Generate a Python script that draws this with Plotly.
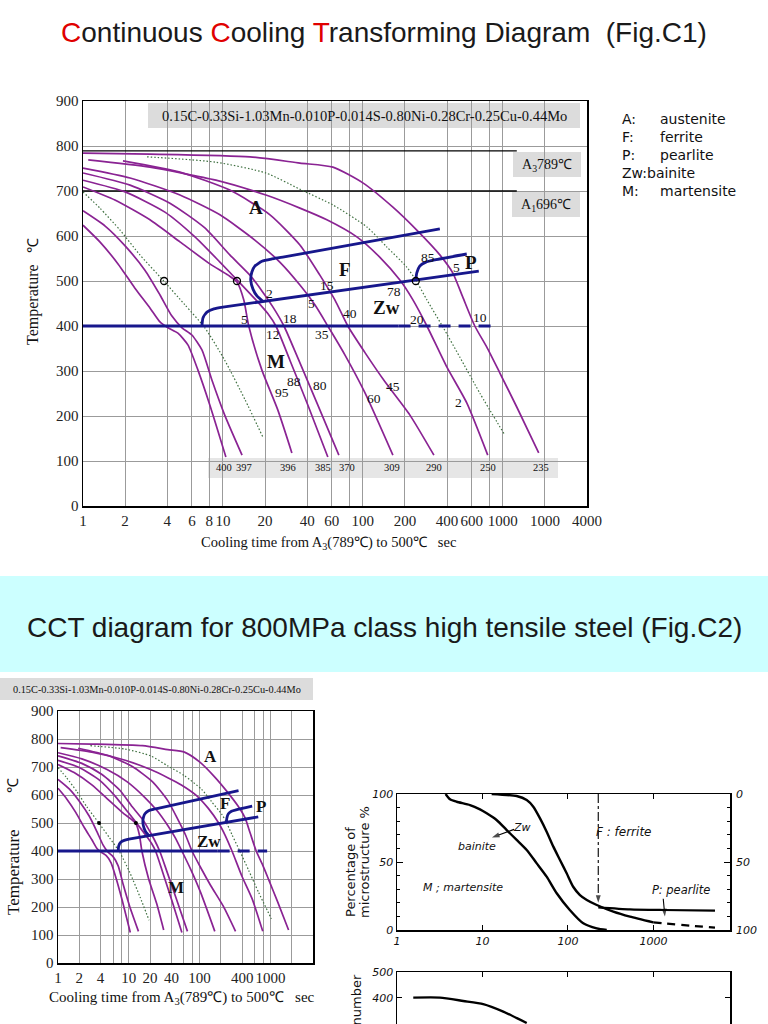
import math
import plotly.graph_objects as go

W, H = 768, 1024

# ======================= DATA =======================
# Fig.C1 / Fig.C2 cooling curves: cooling time (s) and temperature (deg C),
# each named by the Vickers hardness written at its lower end
hv400_time = [1, 1.32, 1.78, 2.35, 3.01, 3.55, 4.05, 4.77, 5.62, 6.63, 8.07, 10.5]
hv400_temp = [624, 587, 538, 484, 440, 409, 396, 384, 358, 302, 224, 109]
hv397_time = [1, 1.44, 2.0, 2.77, 3.55, 4.32, 5.1, 6.0, 7.08, 8.34, 10.3, 13.7]
hv397_temp = [656, 622, 578, 524, 469, 422, 396, 380, 347, 280, 202, 113]
hv396_time = [1, 1.69, 3.01, 4.93, 8.07, 10.9, 12.6, 14.1, 15.3, 19.0, 24.7, 31.1]
hv396_temp = [709, 680, 636, 587, 538, 513, 498, 458, 400, 302, 213, 118]
hv385_time = [1, 2.0, 3.85, 6.31, 9.52, 13.2, 17.2, 21.0, 23.9, 30.1, 40.5, 56.2]
hv385_temp = [724, 698, 653, 598, 542, 496, 458, 427, 400, 324, 224, 109]
hv370_time = [1, 2.17, 4.18, 7.43, 11.2, 15.6, 19.0, 22.8, 27.3, 34.3, 47.7, 67.4]
hv370_temp = [740, 713, 673, 618, 558, 513, 478, 442, 400, 329, 224, 113]
hv309_time = [1, 2.17, 4.93, 9.52, 16.9, 25.5, 35.5, 45.4, 56.2, 74.4, 103, 164]
hv309_temp = [751, 729, 691, 647, 591, 542, 491, 447, 400, 336, 253, 113]
hv290_time = [1.93, 4.93, 11.2, 21.7, 35.5, 49.3, 63.1, 78.1, 103, 144, 217, 322]
hv290_temp = [767, 742, 702, 647, 580, 513, 458, 400, 342, 276, 202, 113]
hv250_time = [1.09, 3.01, 8.91, 20.3, 35.5, 55.3, 90.6, 132, 184, 228, 287, 398, 553, 781]
hv250_temp = [769, 753, 724, 691, 662, 636, 598, 553, 502, 458, 400, 309, 229, 113]
hv235_time = [1, 3.01, 15.6, 35.5, 61.1, 100, 164, 243, 355, 439, 518, 631, 769, 952, 1259, 1807]
hv235_temp = [784, 782, 776, 762, 753, 718, 664, 613, 558, 518, 464, 400, 353, 296, 220, 118]

# critical cooling curves (green dotted)
crit1_time = [1, 1.32, 1.84, 2.55, 3.73, 5.35, 7.43, 10.3, 14.4, 19.3]
crit1_temp = [698, 662, 613, 558, 502, 447, 396, 324, 236, 153]
crit2_time = [2.87, 8.91, 20.3, 35.5, 61.1, 107, 148, 206, 239, 287, 373, 493, 685, 1033]
crit2_temp = [776, 764, 740, 704, 669, 620, 576, 531, 502, 458, 398, 331, 251, 158]

# transformation start lines (blue)
bainite_time = [7.08, 7.2, 7.69, 8.62, 10.0, 674]
bainite_temp = [400, 418, 431, 438, 442, 522]
ferrite_time = [19.3, 17.5, 16.4, 15.8, 16.1, 16.9, 19.0, 22.4, 26.8, 355]
ferrite_temp = [455, 467, 482, 502, 520, 533, 544, 549, 553, 616]
pearlite_time = [239, 243, 255, 282, 327, 553]
pearlite_temp = [502, 518, 533, 542, 547, 560]
ms_temp = 400
ms_solid_time = [1, 180]
ms_dashed_time = [180, 900]

# critical points (open circles)
crit_point_time = [3.8, 12.6, 239]
crit_point_temp = [500, 500, 500]

# A3 / A1 lines
A3_TEMP = 789
A1_TEMP = 700
A_LINE_TIME = [1, 1260]

HARDNESS_LABELS = ["400", "397", "396", "385", "370", "309", "290", "250", "235"]

COMPOSITION = "0.15C-0.33Si-1.03Mn-0.010P-0.014S-0.80Ni-0.28Cr-0.25Cu-0.44Mo"

# percentages written on Fig.C1 (text)
MAIN_NUMBERS = ["2", "15", "5", "78", "85", "5", "5", "18", "40", "20", "10",
                "12", "35", "95", "88", "80", "60", "45", "2"]

# x-axis ticks
X_MAIN_TICKS = [1, 2, 4, 6, 8, 10, 20, 40, 60, 100, 200, 400, 600, 1000, 2000, 4000]
X_MAIN_TEXT = ["1", "2", "4", "6", "8", "10", "20", "40", "60", "100", "200", "400",
               "600", "1000", "1000", "4000"]
X_MAIN_EXTRA_GRID = [80, 800]
X_SMALL_TICKS = [1, 2, 4, 10, 20, 40, 100, 400, 1000]
X_SMALL_EXTRA_GRID = [6, 8, 60, 80, 200, 600, 800, 2000]

# microstructure percentage chart
mart_time = [3.7, 4.17, 4.99, 7.14, 9.35, 11.2, 14.6, 19.2, 25.1, 32.9, 43.1, 56.3, 73.8, 105, 151, 217, 284]
mart_pct = [100, 96.1, 94.3, 91.9, 88.7, 85.8, 80.9, 73.5, 66.2, 58.8, 49, 39.2, 27, 14.7, 4.9, 1.2, 0]
bain_time = [12.8, 25.1, 32.9, 39.3, 47.1, 56.3, 67.4, 80.6, 96.5, 115, 138, 166, 217, 339, 531, 995]
bain_pct = [100, 98.5, 95.6, 90.7, 82.1, 72.3, 61.3, 51.5, 41.7, 31.8, 25.7, 22.1, 18.4, 13.5, 9.8, 5.6]
bain_dash_time = [995, 1303, 2673, 5240]
bain_dash_pct = [5.6, 4.9, 3.2, 1.7]
fp_time = [226, 531, 1303, 5240]
fp_pct = [16.7, 15.2, 14.7, 14.2]
# pointer arrows (tail -> tip) of the hand-drawn labels
ferrite_arrow_time = [226, 226]
ferrite_arrow_pct = [100, 20]
pearlite_arrow_time = [1300, 1360]
pearlite_arrow_pct = [23, 10]
bainite_arrow_time = [23.4, 12.9]
bainite_arrow_pct = [74, 68]

# hardness chart (visible part)
hv_time = [1.55, 3.18, 5.96, 10.2, 17.5, 32.9]
hv_value = [401, 401, 388, 376, 347, 303]

# ======================= STYLE =======================
PURPLE = "#8a2393"
GREEN = "#3f7040"
NAVY = "#17178c"
GRID = "#9b9b9b"
SERIF = "Liberation Serif, Times New Roman, serif"
SANS = "Liberation Sans, Arial, sans-serif"
VERD = "DejaVu Sans, Verdana, sans-serif"


def px(x):
    return x / W


def py(y):
    return 1 - y / H


CURVES = [(hv400_time, hv400_temp), (hv397_time, hv397_temp), (hv396_time, hv396_temp),
          (hv385_time, hv385_temp), (hv370_time, hv370_temp), (hv309_time, hv309_temp),
          (hv290_time, hv290_temp), (hv250_time, hv250_temp), (hv235_time, hv235_temp)]
GREENS = [(crit1_time, crit1_temp), (crit2_time, crit2_temp)]

fig = go.Figure()


def line(x, y, xa, ya, color, width, dash="solid", shape="linear", smoothing=0.6):
    ln = dict(color=color, width=width, dash=dash, shape=shape)
    if shape == "spline":
        ln["smoothing"] = smoothing
    fig.add_trace(go.Scatter(x=x, y=y, xaxis=xa, yaxis=ya, mode="lines", line=ln,
                             hoverinfo="skip", showlegend=False))


def arrow(x, y, xa, ya, width, dash="solid"):
    fig.add_trace(go.Scatter(x=x, y=y, xaxis=xa, yaxis=ya, mode="lines+markers",
                             line=dict(color="black", width=width, dash=dash),
                             marker=dict(symbol="arrow", size=[0, 8], angleref="previous",
                                         color="black", line=dict(width=0)),
                             hoverinfo="skip", showlegend=False))


def add_cct(xa, ya, lw, small):
    if not small:
        line(A_LINE_TIME, [A3_TEMP, A3_TEMP], xa, ya, "black", 1.3)
        line(A_LINE_TIME, [A1_TEMP, A1_TEMP], xa, ya, "black", 1.3)
    for t, T in CURVES:
        line(t, T, xa, ya, PURPLE, lw, shape="spline")
    for t, T in GREENS:
        line(t, T, xa, ya, GREEN, 1.2, dash="1.5px,2px", shape="spline")
    line(ms_solid_time, [ms_temp, ms_temp], xa, ya, NAVY, 2.8)
    line(ms_dashed_time, [ms_temp, ms_temp], xa, ya, NAVY, 2.8, dash="12px,8px")
    line(bainite_time, bainite_temp, xa, ya, NAVY, 2.8, shape="spline", smoothing=0.5)
    line(ferrite_time, ferrite_temp, xa, ya, NAVY, 2.8, shape="spline", smoothing=0.5)
    line(pearlite_time, pearlite_temp, xa, ya, NAVY, 2.8, shape="spline", smoothing=0.5)
    if small:
        fig.add_trace(go.Scatter(x=crit_point_time[:2], y=crit_point_temp[:2], xaxis=xa, yaxis=ya,
                                 mode="markers", marker=dict(color="black", size=4),
                                 hoverinfo="skip", showlegend=False))
    else:
        fig.add_trace(go.Scatter(x=crit_point_time, y=crit_point_temp, xaxis=xa, yaxis=ya,
                                 mode="markers",
                                 marker=dict(symbol="circle-open", color="black", size=7,
                                             line=dict(width=1.3, color="black")),
                                 hoverinfo="skip", showlegend=False))


add_cct("x", "y", 1.7, False)
add_cct("x2", "y2", 1.7, True)

# percentage chart
line(mart_time, mart_pct, "x3", "y3", "black", 2.4, shape="spline")
line(bain_time, bain_pct, "x3", "y3", "black", 2.4, shape="spline")
line(bain_dash_time, bain_dash_pct, "x3", "y3", "black", 2.2, dash="8px,6px", shape="spline")
line(fp_time, fp_pct, "x3", "y3", "black", 2.2, shape="spline")
arrow(ferrite_arrow_time, ferrite_arrow_pct, "x3", "y3", 1.1, dash="dashdot")
arrow(pearlite_arrow_time, pearlite_arrow_pct, "x3", "y3", 1.1)
arrow(bainite_arrow_time, bainite_arrow_pct, "x3", "y3", 1.1)
fig.add_trace(go.Scatter(x=[None], y=[None], xaxis="x3", yaxis="y4", mode="lines",
                         hoverinfo="skip", showlegend=False))
# hardness chart
line(hv_time, hv_value, "x4", "y5", "black", 2.4, shape="spline")

# ======================= LAYOUT =======================
def cct_x(dom, ticks, text, extra, size, anchor):
    return dict(type="log", domain=dom, range=[0, math.log10(4000)], anchor=anchor,
                tickvals=ticks, ticktext=text, tickangle=0,
                tickfont=dict(family=SERIF, size=size, color="#222"),
                showgrid=True, gridcolor=GRID, gridwidth=1,
                minor=dict(tickvals=extra, showgrid=True, gridcolor=GRID, gridwidth=1, ticks=""),
                showline=True, linecolor="black",
                linewidth=1.5, mirror=True, ticks="", zeroline=False, automargin=False,
                fixedrange=True)


def cct_y(dom, size, anchor):
    return dict(domain=dom, range=[0, 900], anchor=anchor, tickvals=list(range(0, 901, 100)),
                tickfont=dict(family=SERIF, size=size, color="#222"),
                showgrid=True, gridcolor=GRID, gridwidth=1, showline=True, linecolor="black",
                linewidth=1.5, mirror=True, ticks="", zeroline=False, automargin=False,
                fixedrange=True)


ital = lambda v: "<i>%s</i>" % v
PCT_XDOM = [px(397), px(730)]
PCT_XRANGE = [0, 3.895]

layout = dict(
    width=W, height=H, autosize=False, margin=dict(l=0, r=0, t=0, b=0),
    paper_bgcolor="white", plot_bgcolor="white", showlegend=False,
    xaxis=cct_x([px(83), px(587)], X_MAIN_TICKS, X_MAIN_TEXT, X_MAIN_EXTRA_GRID, 15, "y"),
    yaxis=cct_y([py(506), py(101)], 15, "x"),
    xaxis2=cct_x([px(58), px(313)], X_SMALL_TICKS, [str(v) for v in X_SMALL_TICKS],
                 X_SMALL_EXTRA_GRID, 15, "y2"),
    yaxis2=cct_y([py(963), py(711)], 15, "x2"),
    xaxis3=dict(type="log", domain=PCT_XDOM, range=PCT_XRANGE, anchor="y3",
                tickvals=[1, 10, 100, 1000], ticktext=[ital(v) for v in ["1", "10", "100", "1000"]],
                tickangle=0, tickfont=dict(family=VERD, size=11, color="#111"),
                ticks="inside", ticklen=5, tickcolor="black", showline=True, linecolor="black",
                linewidth=1.5, mirror="ticks", showgrid=False, zeroline=False, automargin=False),
    yaxis3=dict(domain=[py(930), py(794)], range=[0, 100], anchor="x3",
                tickvals=[0, 50, 100], ticktext=[ital(v) for v in ["0", "50", "100"]],
                tickfont=dict(family=VERD, size=11, color="#111"),
                ticks="inside", ticklen=6, tickcolor="black",
                minor=dict(dtick=10, ticks="inside", ticklen=3, tickcolor="black", showgrid=False),
                showline=True, linecolor="black", linewidth=1.5, mirror="ticks",
                showgrid=False, zeroline=False, automargin=False),
    yaxis4=dict(overlaying="y3", side="right", range=[100, 0], anchor="x3",
                tickvals=[0, 50, 100], ticktext=[ital(v) for v in ["0", "50", "100"]],
                tickfont=dict(family=VERD, size=11, color="#111"), ticks="",
                ticklabelstandoff=5,
                showline=False, showgrid=False, zeroline=False, automargin=False),
    xaxis4=dict(type="log", domain=PCT_XDOM, range=PCT_XRANGE, anchor="y5", side="top",
                tickvals=[10, 100, 1000], showticklabels=False, ticks="inside", ticklen=5,
                tickcolor="black", showline=True, linecolor="black", linewidth=1.5,
                showgrid=False, zeroline=False, automargin=False),
    yaxis5=dict(domain=[0, py(972)], range=[299, 500], anchor="x4",
                tickvals=[300, 400, 500], ticktext=[ital(v) for v in ["300", "400", "500"]],
                tickfont=dict(family=VERD, size=11, color="#111"),
                ticks="inside", ticklen=5, tickcolor="black", showline=True, linecolor="black",
                linewidth=1.5, mirror="ticks", showgrid=False, zeroline=False, automargin=False),
)
fig.update_layout(**layout)

shapes = []


def box(x0, y0, x1, y1, color, layer="between"):
    shapes.append(dict(type="rect", xref="paper", yref="paper", x0=px(x0), x1=px(x1),
                       y0=py(y1), y1=py(y0), fillcolor=color, line=dict(width=0), layer=layer))


box(0, 576, 768, 672, "#ccffff", layer="below")
box(148, 103, 580, 128, "#dcdcdc")
box(513, 152, 581, 177, "#dcdcdc")
box(512, 192, 580, 217, "#dcdcdc")
box(208, 458, 558, 478, "#e6e6e6")
box(0, 678, 313, 700, "#dcdcdc", layer="below")

anns = []


def ann(text, x, y, size=14, family=SERIF, color="#111", xanchor="center", yanchor="middle",
        angle=0):
    anns.append(dict(text=text, x=px(x), y=py(y), xref="paper", yref="paper", showarrow=False,
                     font=dict(size=size, family=family, color=color), xanchor=xanchor,
                     yanchor=yanchor, textangle=angle))


RED = "#e00000"
title1 = ('<span style="color:%s">C</span>ontinuous <span style="color:%s">C</span>ooling '
          '<span style="color:%s">T</span>ransforming Diagram\u00a0\u00a0(Fig.C1)') % (RED, RED, RED)
ann(title1, 384, 32, size=28, family=SANS, color="#1a1a1a")
ann("CCT diagram for 800MPa class high tensile steel (Fig.C2)", 384, 627, size=28, family=SANS,
    color="#1a1a1a")

# legend text
LEGEND = [("A:", "austenite"), ("F:", "ferrite"), ("P:", "pearlite"), ("Zw:", "bainite"),
          ("M:", "martensite")]
for i, (k, v) in enumerate(LEGEND):
    yy = 119 + 18 * i
    if k == "Zw:":
        ann(k + v, 620, yy, size=14, family=VERD, xanchor="left")
    else:
        ann(k, 620, yy, size=14, family=VERD, xanchor="left")
        ann(v, 658, yy, size=14, family=VERD, xanchor="left")

# main chart texts
ann(COMPOSITION, 364, 116, size=14.5)
ann("A<sub>3</sub>789℃", 547, 165, size=14)
ann("A<sub>1</sub>696℃", 546, 205, size=14)
HV_X = [224, 244, 288, 323, 347, 392, 434, 488, 541]
for lab, xx in zip(HARDNESS_LABELS, HV_X):
    ann(lab, xx, 467, size=10.5)
for lab, (xx, yy) in [("A", (256, 207)), ("F", (345, 269)), ("P", (471, 262)),
                      ("Zw", (386, 307)), ("M", (276, 361))]:
    ann("<b>%s</b>" % lab, xx, yy, size=19)
NUM_POS = [(269, 293), (327, 285), (311, 303), (394, 291), (428, 257), (456, 267), (244, 319),
           (290, 318), (350, 313), (417, 319), (480, 317), (273, 334), (322, 334), (282, 392),
           (294, 381), (320, 385), (374, 398), (393, 386), (458, 402)]
for lab, (xx, yy) in zip(MAIN_NUMBERS, NUM_POS):
    ann(lab, xx, yy, size=13.5)
ann("Temperature", 33, 305, size=16, angle=-90)
ann("℃", 33, 246, size=15, angle=-90)
ann("Cooling time from A<sub>3</sub>(789℃) to 500℃\u00a0\u00a0\u00a0sec", 328, 543, size=14.5)

# small chart texts
ann(COMPOSITION, 157, 689, size=10.3)
for lab, (xx, yy) in [("A", (210, 756)), ("F", (225, 803)), ("P", (261, 806)),
                      ("Zw", (209, 841)), ("M", (176, 887))]:
    ann("<b>%s</b>" % lab, xx, yy, size=17)
ann("Temperature", 13, 872, size=17, angle=-90)
ann("℃", 13, 786, size=15, angle=-90)
ann("Cooling time from A<sub>3</sub>(789℃) to 500℃\u00a0\u00a0\u00a0sec", 182, 998, size=15)

# percentage chart texts
ann("Percentage of", 350, 872, size=13, family=VERD, angle=-90)
ann("microstructure %", 364, 862, size=13, family=VERD, angle=-90)
ann(ital("Zw"), 522, 827, size=11, family=VERD)
ann(ital("bainite"), 477, 846, size=11, family=VERD)
ann(ital("F : ferrite"), 623, 832, size=12, family=VERD)
ann(ital("M ; martensite"), 463, 887, size=11, family=VERD)
ann(ital("P: pearlite"), 681, 890, size=11.5, family=VERD)
ann("number", 356, 973, size=13, family=VERD, angle=-90, yanchor="top")

fig.update_layout(shapes=shapes, annotations=anns)

fig.write_html("out.html", config={"displayModeBar": False, "staticPlot": True},
               post_script="document.body.style.margin='0';")
